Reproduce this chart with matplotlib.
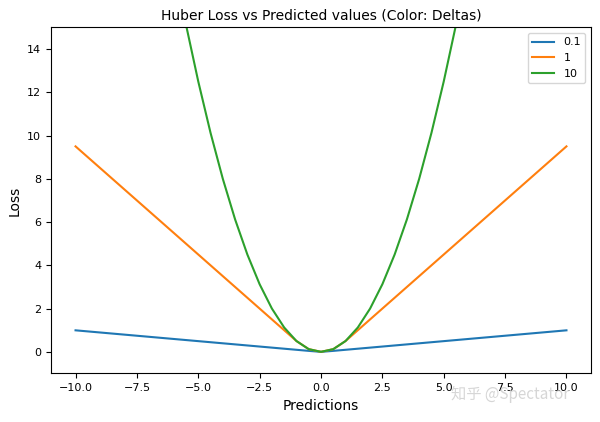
import matplotlib
matplotlib.use("Agg")
import matplotlib.pyplot as plt

# sampled points for |x| = 0, 0.5, ..., 10 (symmetric curves)
abs_x = [0, 0.5, 1, 1.5, 2, 2.5, 3, 3.5, 4, 4.5, 5, 5.5, 6, 6.5, 7, 7.5, 8, 8.5, 9, 9.5, 10]
loss_01 = [0, .045, .095, .145, .195, .245, .295, .345, .395, .445, .495, .545, .595, .645, .695, .745, .795, .845, .895, .945, .995]
loss_1 = [0, .125, .5, 1, 1.5, 2, 2.5, 3, 3.5, 4, 4.5, 5, 5.5, 6, 6.5, 7, 7.5, 8, 8.5, 9, 9.5]
loss_10 = [0, .125, .5, 1.125, 2, 3.125, 4.5, 6.125, 8, 10.125, 12.5, 15.125, 18, 21.125, 24.5, 28.125, 32, 36.125, 40.5, 45.125, 50]
labels = ["0.1", "1", "10"]

x = [-v for v in abs_x[:0:-1]] + abs_x
def mirror(s):
    return s[:0:-1] + s

fig, ax = plt.subplots(figsize=(6, 4.22), dpi=100)
for s, lab in zip([loss_01, loss_1, loss_10], labels):
    ax.plot(x, mirror(s), label=lab)
ax.set_ylim(-1, 15)
ax.set_xlim(-11, 11)
ax.set_title("Huber Loss vs Predicted values (Color: Deltas)", fontsize=10)
ax.set_xlabel("Predictions", fontsize=10)
ax.set_ylabel("Loss", fontsize=10)
ax.tick_params(labelsize=8)
ax.legend(fontsize=8, loc="upper right")
fig.text(0.85, 0.065, "知乎 @Spectator", family=["Noto Sans CJK SC", "DejaVu Sans"],
         fontsize=11, color="#cccccc", ha="center", va="center", alpha=0.8)
fig.subplots_adjust(left=0.085, right=0.985, top=0.935, bottom=0.115)
fig.savefig("out.png")
